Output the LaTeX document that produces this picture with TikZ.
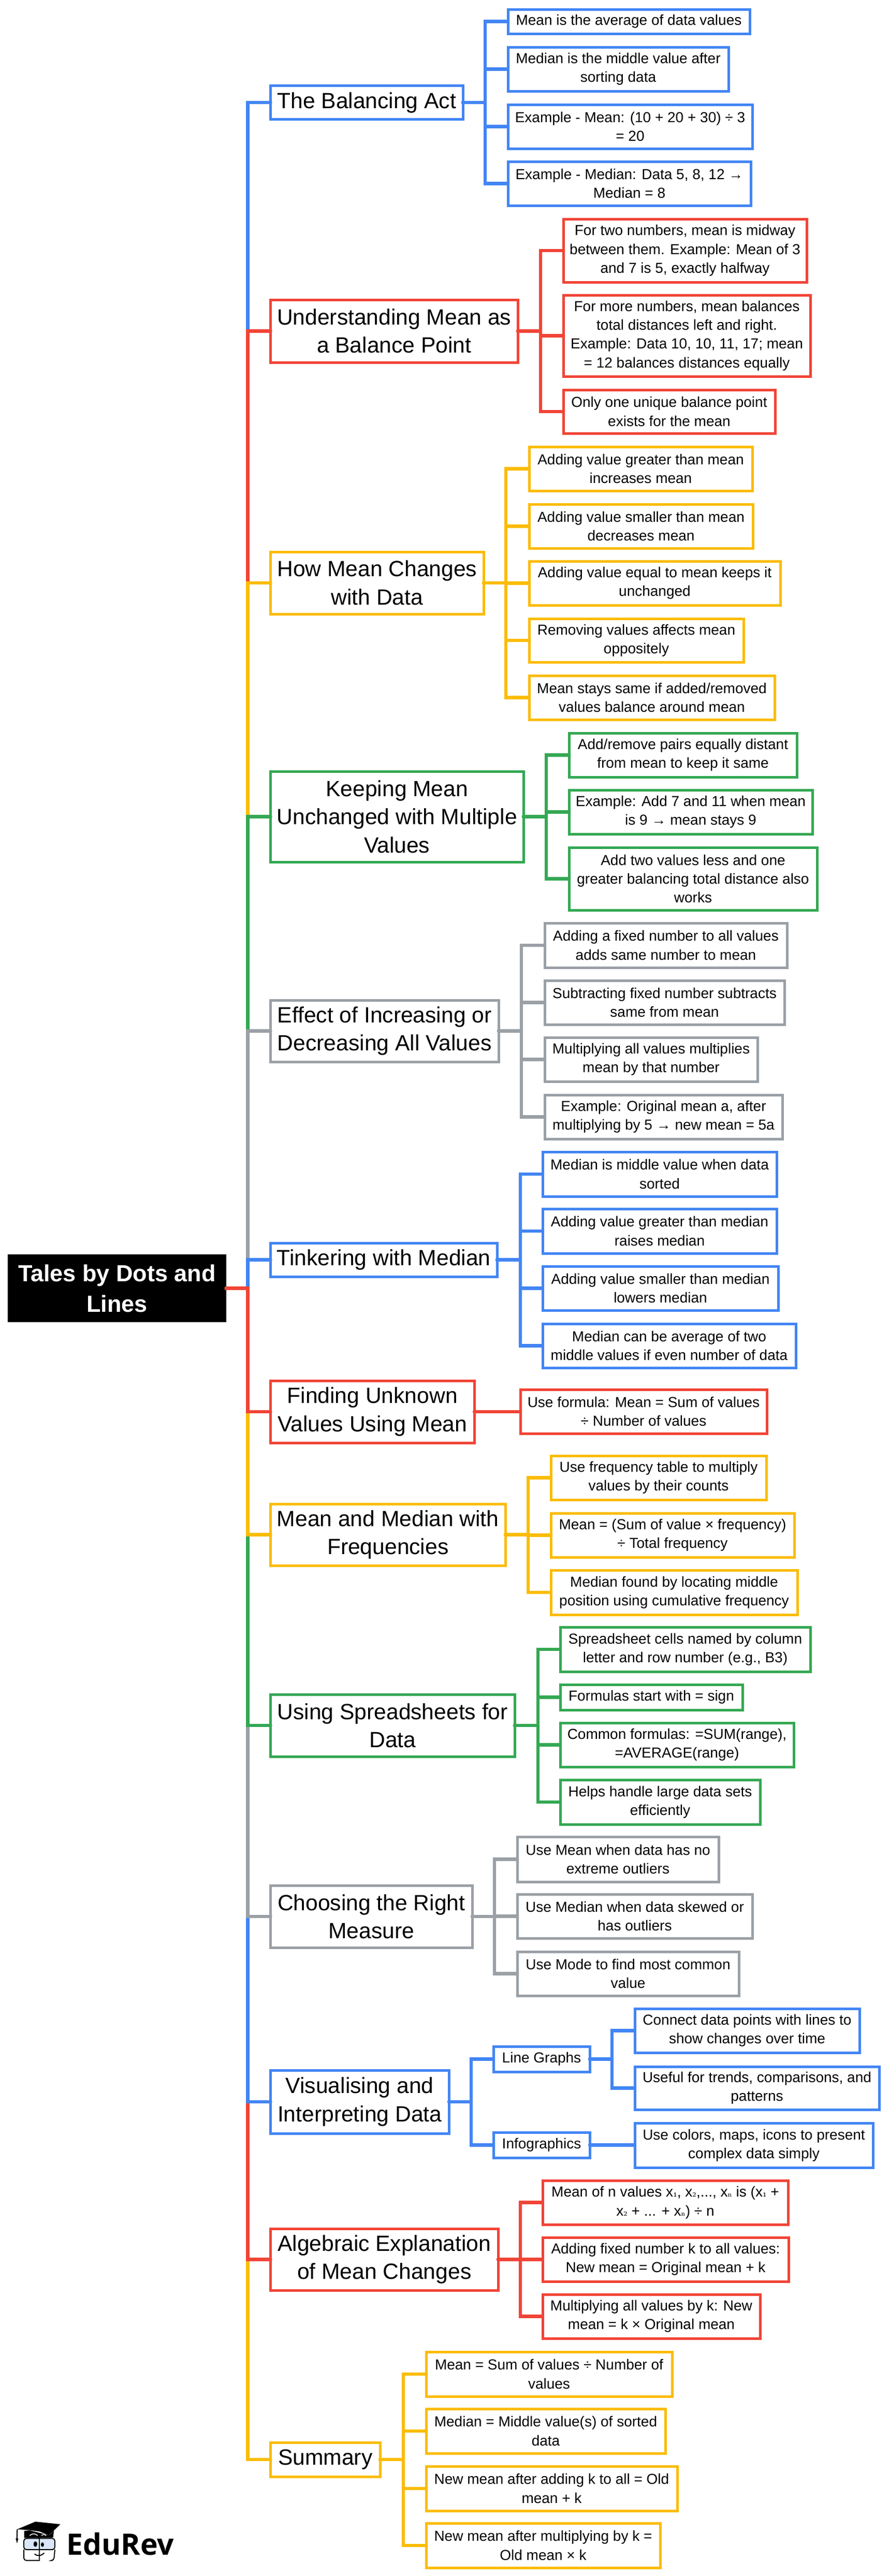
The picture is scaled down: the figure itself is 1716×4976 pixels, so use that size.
\documentclass[tikz,border=0pt]{standalone}
\usepackage{fontspec}
\setmainfont{Liberation Sans}
\newfontfamily\subfam{DejaVu Serif}
\newfontfamily\logofam{Open Sans}
\definecolor{cblue}{HTML}{4285F4}
\definecolor{cred}{HTML}{F14436}
\definecolor{cyellow}{HTML}{FBBC04}
\definecolor{cgreen}{HTML}{34A853}
\definecolor{cgrey}{HTML}{9AA0A6}
\definecolor{clens}{HTML}{D8E6F8}
\newcommand{\nd}[7]{\node[#2,minimum width={#4-#3},minimum height={#6-#5}] (#1) at ({(#3+#4)/2},{(#5+#6)/2}) {#7};}
\newcommand{\sbs}[1]{{\subfam\fontsize{19}{19}\selectfont #1}}
\tikzset{
  anybox/.style={rectangle,align=center,inner sep=0pt,outer sep=0pt,line width=5pt,fill=white,text=black},
  leaf/.style={anybox,font=\fontsize{28}{36.4}\selectfont},
  topic/.style={anybox,font=\fontsize{42.6}{54.5}\selectfont},
  lblue/.style={leaf,draw=cblue},
  lred/.style={leaf,draw=cred},
  lyellow/.style={leaf,draw=cyellow},
  lgreen/.style={leaf,draw=cgreen},
  lgrey/.style={leaf,draw=cgrey},
  tblue/.style={topic,draw=cblue},
  tred/.style={topic,draw=cred},
  tyellow/.style={topic,draw=cyellow},
  tgreen/.style={topic,draw=cgreen},
  tgrey/.style={topic,draw=cgrey},
  rootbox/.style={rectangle,align=center,inner sep=0pt,outer sep=0pt,fill=black,text=white,font=\fontsize{45}{59}\selectfont\bfseries},
  link/.style={line width=6.5pt,line join=miter,line cap=round},
  logoline/.style={line width=2pt,draw=black},
}
\begin{document}
\begin{tikzpicture}[x=1pt,y=-1pt]
\useasboundingbox[fill=white] (0,0) rectangle (1716,4976);

\nd{root}{rootbox}{15}{437}{2423}{2554}{Tales by Dots and\\Lines}

\nd{A}{tblue}{522.5}{894}{165.5}{230.5}{The Balancing Act}
\nd{a1}{lblue}{981}{1448}{18}{65}{Mean is the average of data values}
\nd{a2}{lblue}{981}{1407}{91}{176}{Median is the middle value after\\sorting data}
\nd{a3}{lblue}{981}{1453}{202}{287}{Example - Mean: (10 + 20 + 30) ÷ 3\\= 20}
\nd{a4}{lblue}{981}{1450}{312}{397}{Example - Median: Data 5, 8, 12 →\\Median = 8}

\nd{B}{tred}{522.5}{1000}{579}{700}{Understanding Mean as\\a Balance Point}
\nd{b1}{lred}{1088}{1558}{423}{545}{For two numbers, mean is midway\\between them. Example: Mean of 3\\and 7 is 5, exactly halfway}
\nd{b2}{lred}{1088}{1565}{570}{727}{For more numbers, mean balances\\total distances left and right.\\Example: Data 10, 10, 11, 17; mean\\= 12 balances distances equally}
\nd{b3}{lred}{1088}{1497}{753}{837}{Only one unique balance point\\exists for the mean}

\nd{C}{tyellow}{522.5}{934}{1066}{1186}{How Mean Changes\\with Data}
\nd{c1}{lyellow}{1022}{1453}{863}{948}{Adding value greater than mean\\increases mean}
\nd{c2}{lyellow}{1022}{1454}{974}{1059}{Adding value smaller than mean\\decreases mean}
\nd{c3}{lyellow}{1022}{1507}{1084}{1169}{Adding value equal to mean keeps it\\unchanged}
\nd{c4}{lyellow}{1022}{1436}{1195}{1279}{Removing values affects mean\\oppositely}
\nd{c5}{lyellow}{1022}{1496}{1305}{1390}{Mean stays same if added/removed\\values balance around mean}

\nd{D}{tgreen}{522.5}{1011}{1490}{1665}{Keeping Mean\\Unchanged with Multiple\\Values}
\nd{d1}{lgreen}{1099}{1539}{1416}{1501}{Add/remove pairs equally distant\\from mean to keep it same}
\nd{d2}{lgreen}{1099}{1569}{1526}{1611}{Example: Add 7 and 11 when mean\\is 9 → mean stays 9}
\nd{d3}{lgreen}{1099}{1578}{1637}{1758}{Add two values less and one\\greater balancing total distance also\\works}

\nd{E}{tgrey}{522.5}{963}{1932}{2051}{Effect of Increasing or\\Decreasing All Values}
\nd{e1}{lgrey}{1052}{1520}{1783}{1869}{Adding a fixed number to all values\\adds same number to mean}
\nd{e2}{lgrey}{1052}{1515}{1894}{1979}{Subtracting fixed number subtracts\\same from mean}
\nd{e3}{lgrey}{1052}{1463}{2004}{2089}{Multiplying all values multiplies\\mean by that number}
\nd{e4}{lgrey}{1052}{1511}{2115}{2200}{Example: Original mean a, after\\multiplying by 5 → new mean = 5a}

\nd{F}{tblue}{522.5}{960}{2401}{2466}{Tinkering with Median}
\nd{f1}{lblue}{1048}{1500}{2225}{2311}{Median is middle value when data\\sorted}
\nd{f2}{lblue}{1048}{1500}{2335}{2421}{Adding value greater than median\\raises median}
\nd{f3}{lblue}{1048}{1503}{2446}{2531}{Adding value smaller than median\\lowers median}
\nd{f4}{lblue}{1048}{1537}{2557}{2642}{Median can be average of two\\middle values if even number of data}

\nd{G}{tred}{522.5}{916}{2667}{2787}{Finding Unknown\\Values Using Mean}
\nd{g1}{lred}{1005}{1481}{2684}{2769}{Use formula: Mean = Sum of values\\÷ Number of values}

\nd{H}{tyellow}{522.5}{976}{2905}{3024}{Mean and Median with\\Frequencies}
\nd{h1}{lyellow}{1064}{1480}{2812}{2897}{Use frequency table to multiply\\values by their counts}
\nd{h2}{lyellow}{1064}{1534}{2923}{3008}{Mean = (Sum of value × frequency)\\÷ Total frequency}
\nd{h3}{lyellow}{1064}{1540}{3033}{3119}{Median found by locating middle\\position using cumulative frequency}

\nd{I}{tgreen}{522.5}{994}{3273}{3393}{Using Spreadsheets for\\Data}
\nd{i1}{lgreen}{1082}{1565}{3143}{3229}{Spreadsheet cells named by column\\letter and row number (e.g., B3)}
\nd{i2}{lgreen}{1082}{1434}{3254}{3303}{Formulas start with = sign}
\nd{i3}{lgreen}{1082}{1533}{3328}{3413}{Common formulas: =SUM(range),\\=AVERAGE(range)}
\nd{i4}{lgreen}{1082}{1468}{3438}{3524}{Helps handle large data sets\\efficiently}

\nd{J}{tgrey}{522.5}{912}{3642}{3762}{Choosing the Right\\Measure}
\nd{j1}{lgrey}{999}{1388}{3548}{3635}{Use Mean when data has no\\extreme outliers}
\nd{j2}{lgrey}{999}{1453}{3659}{3744}{Use Median when data skewed or\\has outliers}
\nd{j3}{lgrey}{999}{1427}{3770}{3855}{Use Mode to find most common\\value}

\nd{K}{tblue}{522.5}{867}{3999}{4121}{Visualising and\\Interpreting Data}
\nd{k1}{lblue}{953}{1139}{3953}{4002}{Line Graphs}
\nd{k2}{lblue}{953}{1139}{4119}{4168}{Infographics}
\nd{k11}{lblue}{1226}{1660}{3880}{3965}{Connect data points with lines to\\show changes over time}
\nd{k12}{lblue}{1226}{1698}{3992}{4075}{Useful for trends, comparisons, and\\patterns}
\nd{k21}{lblue}{1226}{1686}{4101}{4187}{Use colors, maps, icons to present\\complex data simply}

\nd{L}{tred}{522.5}{962}{4305}{4424}{Algebraic Explanation\\of Mean Changes}
\nd{l1}{lred}{1048}{1522}{4212}{4297}{Mean of n values x\sbs{₁}, x\sbs{₂},..., x\sbs{ₙ} is (x\sbs{₁} +\\x\sbs{₂} + ... + x\sbs{ₙ}) ÷ n}
\nd{l2}{lred}{1048}{1523}{4322}{4407}{Adding fixed number k to all values:\\New mean = Original mean + k}
\nd{l3}{lred}{1048}{1468}{4432}{4517}{Multiplying all values by k: New\\mean = k × Original mean}

\nd{M}{tyellow}{522.5}{734}{4718}{4784}{Summary}
\nd{m1}{lyellow}{823}{1298}{4543}{4629}{Mean = Sum of values ÷ Number of\\values}
\nd{m2}{lyellow}{823}{1285}{4653}{4739}{Median = Middle value(s) of sorted\\data}
\nd{m3}{lyellow}{823}{1308}{4764}{4850}{New mean after adding k to all = Old\\mean + k}
\nd{m4}{lyellow}{823}{1275}{4874}{4960}{New mean after multiplying by k =\\Old mean × k}

% trunks
\coordinate (ts) at (478.5,0);
\coordinate (tA) at (937,0);
\coordinate (tB) at (1044,0);
\coordinate (tC) at (977,0);
\coordinate (tD) at (1055,0);
\coordinate (tE) at (1007,0);
\coordinate (tF) at (1005,0);
\coordinate (tH) at (1020,0);
\coordinate (tI) at (1039,0);
\coordinate (tJ) at (955,0);
\coordinate (tK) at (910,0);
\coordinate (tKa) at (1182,0);
\coordinate (tL) at (1005,0);
\coordinate (tM) at (779,0);

% spine: upper half top to bottom, lower half bottom to top
\foreach \c/\col in {A/cblue,B/cred,C/cyellow,D/cgreen,E/cgrey,F/cblue,M/cyellow,L/cred,K/cblue,J/cgrey,I/cgreen,H/cyellow,G/cred}{
  \draw[link,draw=\col] (root.east) -- (root.east -| ts) |- (\c.west);
}
% branches
\foreach \p/\t/\col/\kids in {A/tA/cblue/{a1,a2,a3,a4},B/tB/cred/{b1,b2,b3},C/tC/cyellow/{c1,c2,c3,c4,c5},D/tD/cgreen/{d1,d2,d3},E/tE/cgrey/{e1,e2,e3,e4},F/tF/cblue/{f1,f2,f3,f4},H/tH/cyellow/{h1,h2,h3},I/tI/cgreen/{i1,i2,i3,i4},J/tJ/cgrey/{j1,j2,j3},K/tK/cblue/{k1,k2},k1/tKa/cblue/{k11,k12},L/tL/cred/{l1,l2,l3},M/tM/cyellow/{m1,m2,m3,m4}}{
  \foreach \k in \kids {
    \draw[link,draw=\col] (\p.east) -- (\p.east -| \t) |- (\k.west);
  }
}
\draw[link,draw=cred] (G.east) -- (g1.west |- G.east);
\draw[link,draw=cblue] (k2.east) -- (k21.west |- k2.east);

% logo
\begin{scope}[shift={(0,4840)},x=0.3333pt,y=-0.3333pt]
  \fill[black] (140,147) -- (170,143) -- (285,172) -- (312,145) -- (308,185) -- (140,187) -- cycle;
  \fill[black] (100,137) -- (205,93) -- (350,108) -- (283,172) -- (230,150) -- (170,142) -- cycle;
  \draw[logoline] (100,137) -- (98,192);
  \fill[black] (91,190) -- (106,190) -- (99,219) -- cycle;
  \draw[logoline,line width=1.5pt,white] (172,174) .. controls (185,160) and (205,160) .. (218,174);
  \draw[logoline,line width=1.5pt,white] (240,174) .. controls (248,166) and (258,166) .. (268,174);
  \draw[logoline,fill=clens,rounded corners=5pt] (138,190) rectangle (318,255);
  \draw[logoline,rounded corners=5pt] (138,255) -- (138,318) -- (228,318) (318,255) -- (312,318) -- (305,318);
  \draw[logoline] (228,178) -- (228,320);
  \fill[black] (205,223) ellipse [x radius=11,y radius=16];
  \fill[black] (246,226) ellipse [x radius=9,y radius=13];
  \draw[logoline] (200,280) .. controls (215,295) and (240,292) .. (256,274);
\end{scope}
\node[font=\logofam\fontsize{57}{57}\selectfont\bfseries,inner sep=0pt,anchor=base west] (logotext) at (128,4935) {EduRev};
\end{tikzpicture}
\end{document}
